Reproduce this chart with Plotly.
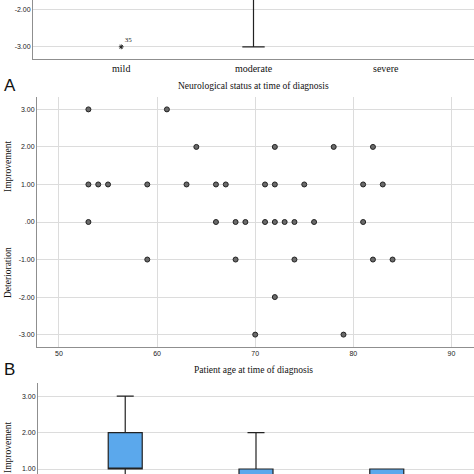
import plotly.graph_objects as go

# ---------- data ----------
categories = ["mild", "moderate", "severe"]

# Panel A scatter: age vs change score
age_pts = [53, 61,
           64, 72, 78, 82,
           53, 54, 55, 59, 63, 66, 67, 71, 72, 75, 81, 83,
           53, 66, 68, 69, 71, 72, 73, 74, 76, 81,
           59, 68, 74, 82, 84,
           72,
           70, 79]
change_pts = [3, 3,
              2, 2, 2, 2,
              1, 1, 1, 1, 1, 1, 1, 1, 1, 1, 1, 1,
              0, 0, 0, 0, 0, 0, 0, 0, 0, 0,
              -1, -1, -1, -1, -1,
              -2,
              -3, -3]

# Top (cropped) box plot: change by neurological status
top_q1 = [0, -1, 0]
top_median = [1, 0, 0]
top_q3 = [1, 1, 1]
top_lower = [-1, -3, -1]
top_upper = [3, 2, 1]
top_outlier_cat = ["mild"]
top_outlier_val = [-3]
top_outlier_lbl = ["35"]

# Bottom (cropped) box plot
bot_q1 = [1, 0, 0]
bot_median = [1, 0, 0]
bot_q3 = [2, 1, 1]
bot_lower = [0, -1, -1]
bot_upper = [3, 2, 1]

scatter_ticks = [3, 2, 1, 0, -1, -2, -3]
scatter_ticktext = ["3.00", "2.00", "1.00", ".00", "-1.00", "-2.00", "-3.00"]
age_ticks = [50, 60, 70, 80, 90]

W = H = 474
def py(px):
    return 1 - px / H
def px_(x):
    return x / W

SERIF = "Liberation Serif"
SANS = "Liberation Sans"
BOXCOL = "#5ba8ec"
GRID = "#dcdcdc"
AXIS = "#8f8f8f"

fig = go.Figure()

# top box plot
fig.add_trace(go.Box(
    x=categories, q1=top_q1, median=top_median, q3=top_q3,
    lowerfence=top_lower, upperfence=top_upper,
    xaxis="x", yaxis="y", fillcolor=BOXCOL,
    line=dict(color="#222222", width=1.2), width=0.26, whiskerwidth=0.65,
    boxpoints=False, showlegend=False, hoverinfo="skip"))
fig.add_trace(go.Scatter(
    x=top_outlier_cat, y=top_outlier_val, mode="markers+text",
    text=top_outlier_lbl, textposition="top right",
    textfont=dict(family=SERIF, size=7, color="#222"),
    marker=dict(symbol="asterisk-open", size=4, color="#222", line=dict(width=1, color="#222")),
    xaxis="x", yaxis="y", showlegend=False, cliponaxis=False))

# scatter
fig.add_trace(go.Scatter(
    x=age_pts, y=change_pts, mode="markers",
    marker=dict(size=5, color="#6a6a6a", line=dict(color="#222222", width=1)),
    xaxis="x2", yaxis="y2", showlegend=False))

# bottom box plot
fig.add_trace(go.Box(
    x=categories, q1=bot_q1, median=bot_median, q3=bot_q3,
    lowerfence=bot_lower, upperfence=bot_upper,
    xaxis="x3", yaxis="y3", fillcolor=BOXCOL,
    line=dict(color="#222222", width=1.2), width=0.26, whiskerwidth=0.5,
    boxpoints=False, showlegend=False, hoverinfo="skip"))

tickfont = dict(family=SANS, size=7, color="#222")

fig.update_layout(
    width=W, height=H, margin=dict(l=0, r=0, t=0, b=0),
    paper_bgcolor="white", plot_bgcolor="white",
    xaxis=dict(domain=[px_(33), 1], anchor="y", type="category",
               range=[-0.667, 2.667], showgrid=False, showline=True,
               linecolor=AXIS, linewidth=1, ticks="",
               tickfont=dict(family=SERIF, size=10, color="#111")),
    yaxis=dict(domain=[py(59), 1], anchor="x", range=[-3.33, -1.73],
               tickvals=[-2, -3], ticktext=["-2.00", "-3.00"],
               showgrid=True, gridcolor=GRID, showline=True, linecolor=AXIS,
               zeroline=False, tickfont=tickfont, ticks=""),
    xaxis2=dict(domain=[px_(37), 1], anchor="y2", range=[47.76, 92.3],
                tickvals=age_ticks, showgrid=True, gridcolor=GRID,
                showline=True, linecolor=AXIS, zeroline=False, ticks="",
                tickfont=tickfont),
    yaxis2=dict(domain=[py(347), py(97)], anchor="x2", range=[-3.33, 3.33],
                tickvals=scatter_ticks, ticktext=scatter_ticktext,
                showgrid=True, gridcolor=GRID, showline=True, linecolor=AXIS,
                zeroline=False, ticks="", tickfont=tickfont),
    xaxis3=dict(domain=[px_(38), 1], anchor="y3", type="category",
                range=[-0.667, 2.667], showgrid=False, showline=False,
                showticklabels=False, ticks=""),
    yaxis3=dict(domain=[0, py(383)], anchor="x3", range=[0.863, 3.36],
                tickvals=[1, 2, 3], ticktext=["1.00", "2.00", "3.00"],
                showgrid=True, gridcolor=GRID, showline=True, linecolor=AXIS,
                zeroline=False, ticks="", tickfont=tickfont),
)

ann = []
def text(x, y, s, size=9, family=SERIF, angle=0, xanchor="center", yanchor="middle"):
    ann.append(dict(x=x / W, y=py(y), xref="paper", yref="paper", text=s,
                    showarrow=False, textangle=angle, xanchor=xanchor, yanchor=yanchor,
                    font=dict(family=family, size=size, color="#111")))

text(253, 86, "Neurological status at time of diagnosis", size=9.5)
text(253, 370, "Patient age at time of diagnosis", size=9.5)
text(2, 85, "A", size=17, family=SANS, xanchor="left")
text(2, 369, "B", size=17, family=SANS, xanchor="left")
text(8, 166, "Improvement", size=9.5, angle=-90)
text(8, 273, "Deterioration", size=9.5, angle=-90)
text(8, 447, "Improvement", size=9.5, angle=-90)
text(8, -30, "Deterioration", size=9.5, angle=-90)
fig.update_layout(annotations=ann)

fig.write_html("out.html")
